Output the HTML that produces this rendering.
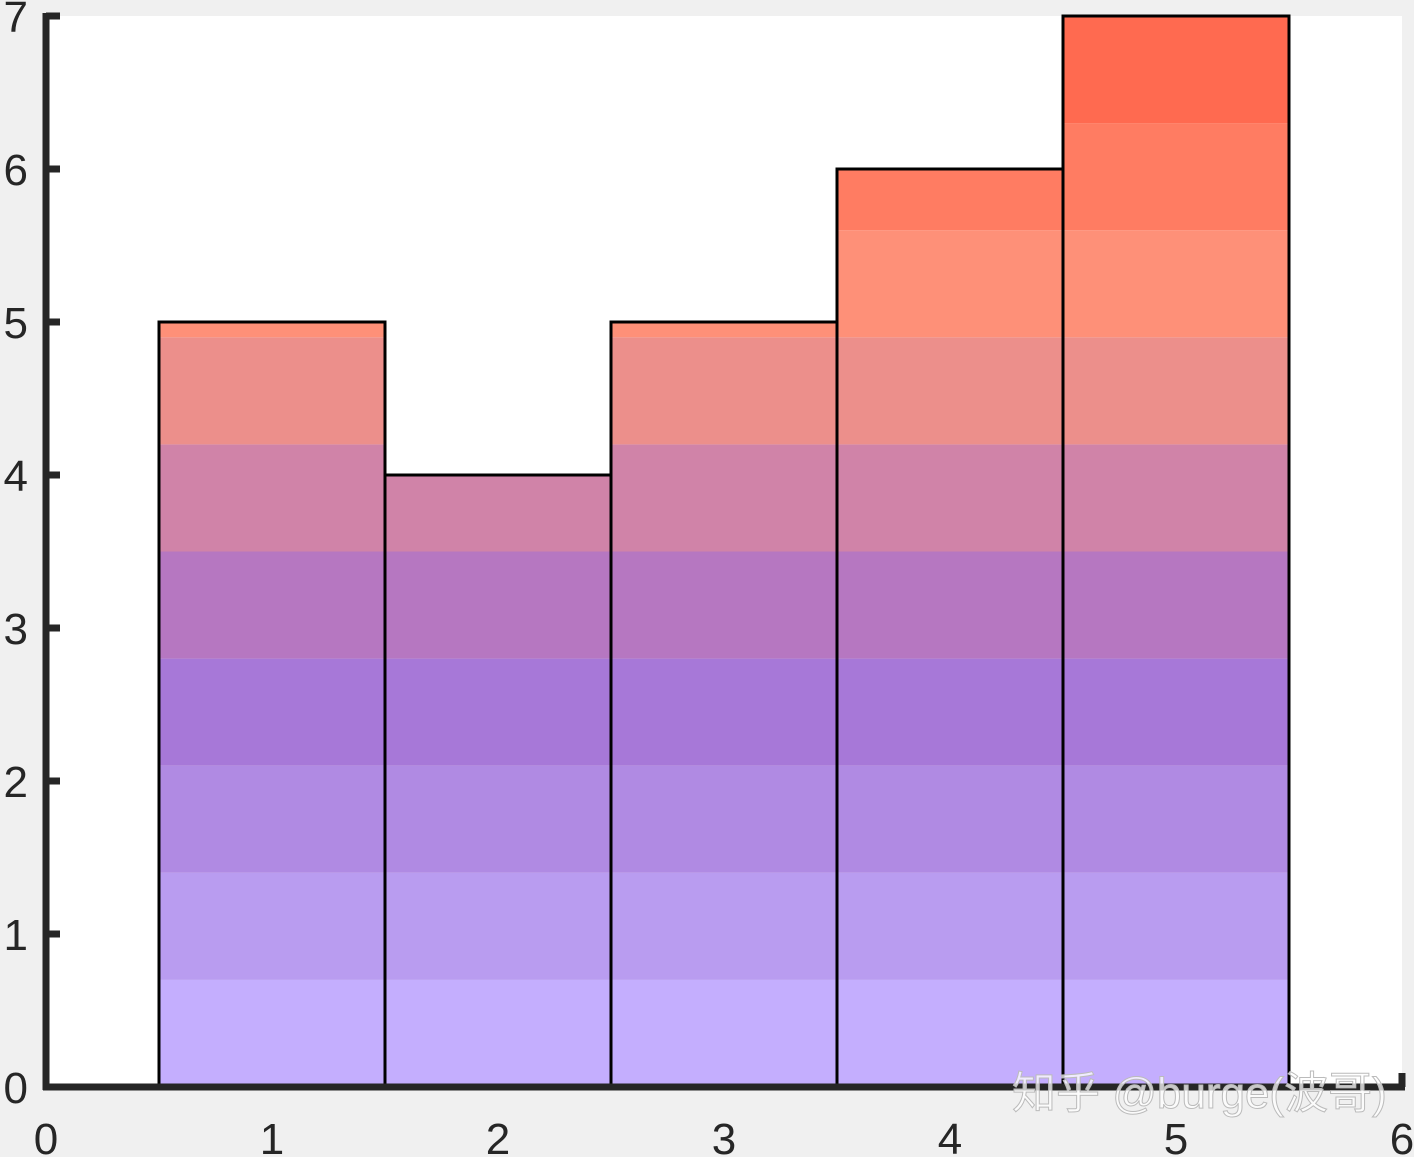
<!DOCTYPE html>
<html><head><meta charset="utf-8">
<style>
html,body{margin:0;padding:0;background:#f0f0f0;}
svg{display:block;font-family:"Liberation Sans","Noto Sans CJK SC",sans-serif;}
</style></head>
<body>
<svg id="chart" width="1414" height="1157" viewBox="0 0 1414 1157" xmlns="http://www.w3.org/2000/svg">
<rect x="0" y="0" width="1414" height="1157" fill="#f0f0f0"/>
<rect x="46" y="16" width="1356" height="1071" fill="#ffffff"/>
<g id="ticks"></g>
<g id="bars"></g>
<g id="axes"></g>
<text x="1012" y="1108" font-size="44" fill="#ffffff" fill-opacity="0.75" stroke="#bbbbbb" stroke-width="1">知乎 @burge(波哥)</text>
</svg>
<script>
const categories = [1, 2, 3, 4, 5];
const values = [5, 4, 5, 6, 7];
const bandStep = 0.7;
const bandColors = ["#c4aefe","#b99cf0","#b08ae3","#a778d8","#b677c1","#d083a8","#ec8f8b","#fe9078","#ff7c62","#ff6a50"];
const xTicks = [0,1,2,3,4,5,6];
const yTicks = [0,1,2,3,4,5,6,7];

const NS = "http://www.w3.org/2000/svg";
const X0 = 46, X1 = 1402, Y0 = 1087, Y1 = 16;
const xMin = 0, xMax = 6, yMin = 0, yMax = 7;
const xs = v => X0 + (v - xMin) / (xMax - xMin) * (X1 - X0);
const ys = v => Y0 - (v - yMin) / (yMax - yMin) * (Y0 - Y1);
function mk(tag, attrs, parent) {
  const e = document.createElementNS(NS, tag);
  for (const k in attrs) e.setAttribute(k, attrs[k]);
  parent.appendChild(e);
  return e;
}
const gt = document.getElementById("ticks");
const gb = document.getElementById("bars");
const ga = document.getElementById("axes");
yTicks.forEach(t => {
  const tk = mk("line", {x1: X0, y1: ys(t), x2: X0 + 14, y2: ys(t), stroke: "#262626", "stroke-width": 7}, gt);
  
  
  const lb = mk("text", {x: 28, y: ys(t) + 16, "font-size": 44, fill: "#262626", "text-anchor": "end"}, ga);
  lb.textContent = t;
  
  
});
xTicks.forEach(t => {
  const tk = mk("line", {x1: xs(t), y1: Y0, x2: xs(t), y2: Y0 - 14, stroke: "#262626", "stroke-width": 7}, gt);
  
  
  const lb = mk("text", {x: xs(t), y: 1154, "font-size": 44, fill: "#262626", "text-anchor": "middle"}, ga);
  lb.textContent = t;
  
  
});
categories.forEach((c, i) => {
  const v = values[i];
  const xl = xs(c - 0.5), xr = xs(c + 0.5);
  for (let b = 0; b < bandColors.length; b++) {
    const lo = b * bandStep;
    if (lo >= v) break;
    const hi = Math.min(v, (b + 1) * bandStep);
    const r = mk("rect", {x: xl, y: ys(hi), width: xr - xl, height: ys(lo) - ys(hi), fill: bandColors[b]}, gb);
    
    
  }
  const o = mk("rect", {x: xl, y: ys(v), width: xr - xl, height: ys(0) - ys(v), fill: "none", stroke: "#000", "stroke-width": 3}, gb);
  
  
});
const yl = mk("line", {x1: X0, y1: Y1 - 3, x2: X0, y2: Y0 + 3, stroke: "#262626", "stroke-width": 7}, ga);


const xl = mk("line", {x1: X0 - 3, y1: Y0, x2: X1 + 3, y2: Y0, stroke: "#262626", "stroke-width": 7}, ga);


const rt = mk("line", {x1: X1, y1: Y0, x2: X1, y2: Y0 - 14, stroke: "#262626", "stroke-width": 7}, ga);


</script>
</body></html>
